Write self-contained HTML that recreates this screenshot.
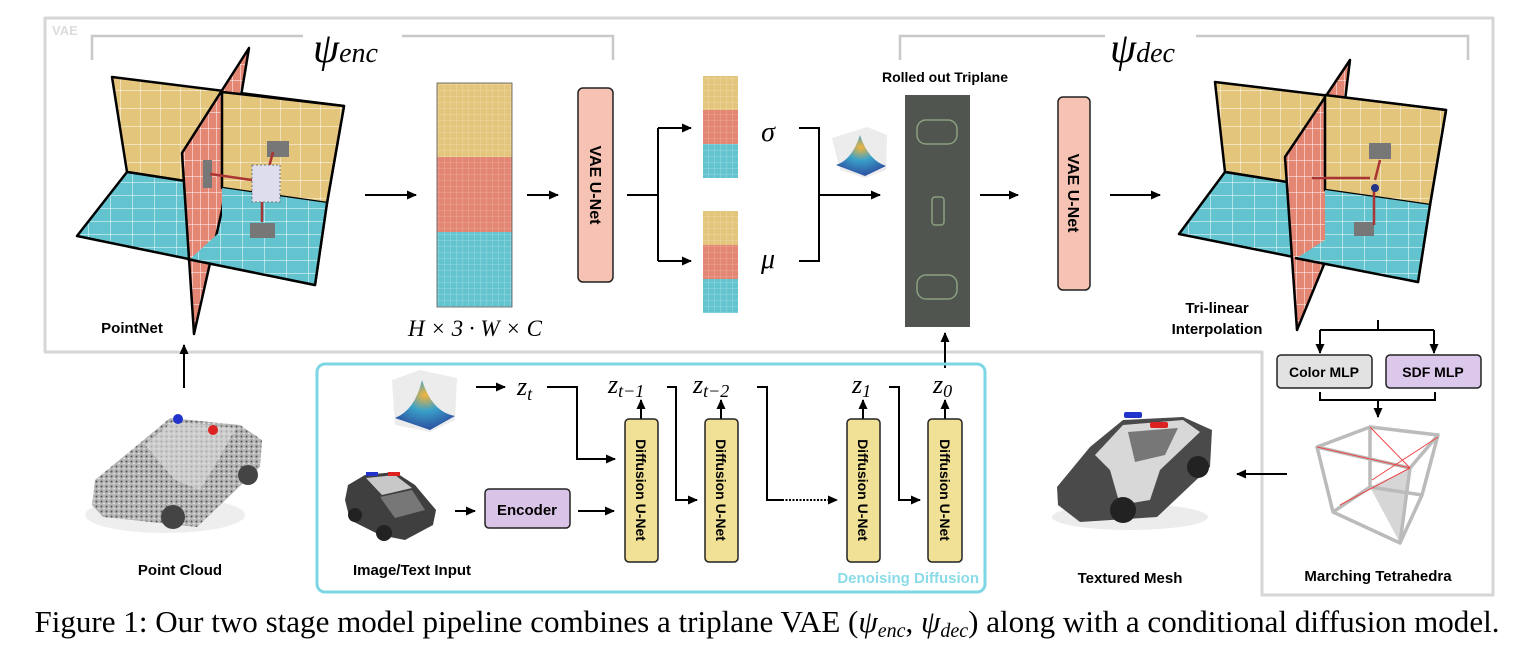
<!DOCTYPE html>
<html><head><meta charset="utf-8"><style>
body{margin:0;background:#fff;}
svg{display:block}
.s{font-family:"Liberation Sans",sans-serif;font-weight:bold;}
.m{font-family:"Liberation Serif",serif;font-style:italic;}
</style></head><body>
<svg width="1514" height="646" viewBox="0 0 1514 646" xmlns="http://www.w3.org/2000/svg">
<defs>
<pattern id="gy" width="6" height="6" patternUnits="userSpaceOnUse"><rect width="6" height="6" fill="#e3c57c"/><path d="M0 0H6M0 0V6" stroke="#f1dfae" stroke-width="0.8"/></pattern>
<pattern id="gr" width="6" height="6" patternUnits="userSpaceOnUse"><rect width="6" height="6" fill="#e38673"/><path d="M0 0H6M0 0V6" stroke="#f0b0a2" stroke-width="0.8"/></pattern>
<pattern id="gc" width="6" height="6" patternUnits="userSpaceOnUse"><rect width="6" height="6" fill="#63c4cf"/><path d="M0 0H6M0 0V6" stroke="#a6e0e6" stroke-width="0.8"/></pattern>
<pattern id="by" width="20" height="18" patternUnits="userSpaceOnUse"><rect width="20" height="18" fill="#e3c57c"/><path d="M0 0H20M0 0V18" stroke="#fff" stroke-width="1"/></pattern>
<pattern id="br" width="8" height="16" patternUnits="userSpaceOnUse"><rect width="8" height="16" fill="#e38673"/><path d="M0 0H8M0 0V16" stroke="#fff" stroke-width="1"/></pattern>
<pattern id="bc" width="22" height="13" patternUnits="userSpaceOnUse"><rect width="22" height="13" fill="#63c4cf"/><path d="M0 0H22M0 0V13" stroke="#fff" stroke-width="1"/></pattern>
<pattern id="pc" width="5" height="5" patternUnits="userSpaceOnUse"><rect width="5" height="5" fill="#b5b5b5"/><circle cx="1.5" cy="1.5" r="1" fill="#555"/><circle cx="4" cy="3.5" r="0.8" fill="#eee"/></pattern>
<marker id="a" markerWidth="10" markerHeight="10" refX="9" refY="5" orient="auto" markerUnits="userSpaceOnUse"><path d="M0 0.5L10 5L0 9.5z" fill="#000"/></marker>
<radialGradient id="gs" cx="50%" cy="30%" r="70%"><stop offset="0" stop-color="#f5b43a"/><stop offset="0.45" stop-color="#3aa1c9"/><stop offset="1" stop-color="#2d4fa0"/></radialGradient>
</defs>

<!-- VAE outline -->
<path d="M45 18H1493V595H1262V352H45Z" fill="none" stroke="#d6d6d6" stroke-width="3" stroke-linejoin="round"/>
<text x="52" y="35" class="s" font-size="13" fill="#dcdcdc">VAE</text>
<path d="M92 60V36H303M402 36H613V60" fill="none" stroke="#c8c8c8" stroke-width="2.5"/>
<text x="313" y="62" class="m" font-size="42">ψ<tspan font-size="28">enc</tspan></text>
<path d="M900 60V36H1105M1196 36H1468V60" fill="none" stroke="#c8c8c8" stroke-width="2.5"/>
<text x="1110" y="62" class="m" font-size="42">ψ<tspan font-size="28">dec</tspan></text>

<!-- encoder triplane -->
<g stroke="#000" stroke-width="2.5" stroke-linejoin="round">
<polygon points="112,77 344,106 327,203 127,172" fill="url(#by)"/>
<polygon points="127,172 327,203 315,285 77,236" fill="url(#bc)"/>
<polygon points="182,153 249,48 222,210 194,334" fill="url(#br)"/>
<polygon points="222,92 344,106 327,203 222,188" fill="url(#by)"/>
<polygon points="222,188 327,203 315,285 190,259 222,230" fill="url(#bc)" stroke="none"/>
<path d="M327,203 315,285 187,259" fill="none"/>
<path d="M222 92V188" fill="none" stroke-width="1.5"/>
</g>
<rect x="267" y="141" width="22" height="16" fill="#777"/><rect x="250" y="223" width="25" height="15" fill="#777"/><rect x="203" y="160" width="9" height="28" fill="#777"/>
<path d="M265 182L273 152M252 180L210 174M262 200V222" stroke="#a33" stroke-width="2.5"/>
<rect x="252" y="165" width="28" height="37" fill="#dde" stroke="#777" stroke-dasharray="2,2"/>
<text x="132" y="333" class="s" font-size="15" text-anchor="middle">PointNet</text>

<!-- feature stack -->
<rect x="437" y="83" width="75" height="74" fill="url(#gy)"/><rect x="437" y="157" width="75" height="75" fill="url(#gr)"/><rect x="437" y="232" width="75" height="75" fill="url(#gc)"/>
<rect x="437" y="83" width="75" height="224" fill="none" stroke="#555" stroke-width="0.8"/>
<text x="475" y="336" class="m" font-size="23" text-anchor="middle">H × 3 · W × C</text>

<g stroke="#000" stroke-width="2" fill="none">
<path d="M365 195H416" marker-end="url(#a)"/>
<path d="M527 195H558" marker-end="url(#a)"/>
<path d="M627 195H658M658 128V261"/><path d="M658 128H691" marker-end="url(#a)"/><path d="M658 261H691" marker-end="url(#a)"/>
<path d="M799 128H819V261H799"/><path d="M819 195H880" marker-end="url(#a)"/>
<path d="M980 195H1018" marker-end="url(#a)"/>
<path d="M1110 195H1160" marker-end="url(#a)"/>
<path d="M184 388V345" marker-end="url(#a)"/>
<path d="M945 368V333" marker-end="url(#a)"/>
<path d="M1378 320V330M1320 330H1434"/><path d="M1320 330V353" marker-end="url(#a)"/><path d="M1434 330V353" marker-end="url(#a)"/>
<path d="M1320 392V400H1435V392"/><path d="M1378 400V417" marker-end="url(#a)"/>
<path d="M1287 474H1237" marker-end="url(#a)"/>
</g>

<rect x="578" y="88" width="35" height="194" rx="5" fill="#f5c2b3" stroke="#222" stroke-width="1.5"/>
<text transform="translate(590,185) rotate(90)" class="s" font-size="16" text-anchor="middle">VAE U-Net</text>

<rect x="703" y="76" width="35" height="34" fill="url(#gy)"/><rect x="703" y="110" width="35" height="34" fill="url(#gr)"/><rect x="703" y="144" width="35" height="34" fill="url(#gc)"/>
<rect x="703" y="211" width="35" height="34" fill="url(#gy)"/><rect x="703" y="245" width="35" height="34" fill="url(#gr)"/><rect x="703" y="279" width="35" height="34" fill="url(#gc)"/>
<text x="768" y="141" class="m" font-size="28" text-anchor="middle">σ</text>
<text x="768" y="268" class="m" font-size="28" text-anchor="middle">μ</text>
<path d="M832 138L867 127L887 135L886 170L865 178L840 170Z" fill="#ececec"/>
<path d="M836 165Q852 160 860 135Q868 160 886 166L865 176Z" fill="url(#gs)"/>

<!-- rolled out triplane -->
<text x="945" y="82" class="s" font-size="14" text-anchor="middle">Rolled out Triplane</text>
<rect x="905" y="95" width="65" height="232" fill="#505550"/>
<rect x="917" y="120" width="40" height="24" rx="9" fill="none" stroke="#8aa07f" stroke-width="1.5"/>
<rect x="932" y="197" width="12" height="28" rx="3" fill="none" stroke="#8aa07f" stroke-width="1.5"/>
<rect x="917" y="275" width="40" height="24" rx="9" fill="none" stroke="#8aa07f" stroke-width="1.5"/>

<rect x="1058" y="97" width="32" height="193" rx="5" fill="#f5c2b3" stroke="#222" stroke-width="1.5"/>
<text transform="translate(1068,193) rotate(90)" class="s" font-size="16" text-anchor="middle">VAE U-Net</text>

<!-- decoder triplane -->
<g stroke="#000" stroke-width="2.5" stroke-linejoin="round">
<polygon points="1215,82 1446,110 1430,205 1225,172" fill="url(#by)"/>
<polygon points="1225,172 1430,205 1418,282 1179,234" fill="url(#bc)"/>
<polygon points="1285,157 1350,60 1325,262 1297,330" fill="url(#br)"/>
<polygon points="1325,95 1446,110 1430,205 1325,190" fill="url(#by)"/>
<polygon points="1325,190 1430,205 1418,282 1297,258 1325,240" fill="url(#bc)" stroke="none"/>
<path d="M1430,205 1418,282 1295,258" fill="none"/>
<path d="M1325 95V190" fill="none" stroke-width="1.5"/>
</g>
<rect x="1369" y="143" width="22" height="16" fill="#777"/><rect x="1354" y="222" width="20" height="14" fill="#777"/>
<path d="M1312 178H1370M1374 188V225M1380 160L1375 180" stroke="#a33" stroke-width="2.5"/>
<circle cx="1375" cy="188" r="4" fill="#223388"/>
<text x="1217" y="313" class="s" font-size="15" text-anchor="middle">Tri-linear</text>
<text x="1217" y="334" class="s" font-size="15" text-anchor="middle">Interpolation</text>

<rect x="1277" y="355" width="95" height="33" rx="4" fill="#e2e2e2" stroke="#222" stroke-width="1.5"/>
<text x="1324" y="377" class="s" font-size="14" text-anchor="middle">Color MLP</text>
<rect x="1386" y="355" width="95" height="33" rx="4" fill="#dcc8ea" stroke="#222" stroke-width="1.5"/>
<text x="1433" y="377" class="s" font-size="14" text-anchor="middle">SDF MLP</text>

<!-- tetra cube -->
<path d="M1370 487L1410 468L1400 543Z" fill="#ccc" opacity="0.8"/>
<g fill="none" stroke="#bbb" stroke-width="3.5" stroke-linejoin="round">
<path d="M1317 447L1370 427L1438 435L1410 468ZM1317 447L1333 512L1400 543L1410 468M1400 543L1422 495L1438 435M1370 427L1370 487L1333 512M1370 487L1422 495"/>
</g>
<path d="M1317 447L1410 468M1370 427L1410 468M1340 505L1410 468M1372 480L1438 437" stroke="#e44" stroke-width="1"/>
<text x="1378" y="581" class="s" font-size="15" text-anchor="middle">Marching Tetrahedra</text>

<!-- textured mesh car -->
<g>
<ellipse cx="1130" cy="517" rx="78" ry="13" fill="#ececec"/>
<path d="M1057 487L1090 447L1123 420L1183 417L1212 430L1210 467L1157 517L1080 522L1058 505Z" fill="#4a4a4a"/>
<path d="M1123 425L1183 420L1200 432L1160 470L1150 500L1120 505L1110 470L1095 455Z" fill="#d8d8d8"/>
<path d="M1128 432L1178 428L1165 455L1135 462Z" fill="#777"/>
<rect x="1124" y="412" width="18" height="6" rx="2" fill="#2233cc"/><rect x="1150" y="422" width="18" height="6" rx="2" fill="#dd2222"/>
<circle cx="1123" cy="510" r="13" fill="#222"/><circle cx="1198" cy="467" r="11" fill="#222"/>
</g>
<text x="1130" y="583" class="s" font-size="15" text-anchor="middle">Textured Mesh</text>

<!-- point cloud car -->
<g>
<ellipse cx="165" cy="515" rx="80" ry="18" fill="#eee"/>
<path d="M95 480L140 443L170 418L240 425L262 440L260 467L197 527L103 517L92 505Z" fill="url(#pc)"/>
<path d="M145 445L172 422L236 428L215 465L200 490L175 480Z" fill="#ddd" opacity="0.6"/>
<circle cx="178" cy="419" r="5" fill="#2233cc"/><circle cx="213" cy="430" r="5" fill="#dd2222"/>
<circle cx="173" cy="517" r="12" fill="#444"/><circle cx="248" cy="475" r="10" fill="#444"/>
</g>
<text x="180" y="575" class="s" font-size="15" text-anchor="middle">Point Cloud</text>

<!-- denoising diffusion -->
<rect x="317" y="364" width="668" height="228" rx="8" fill="none" stroke="#7dd6e4" stroke-width="3"/>
<text x="979" y="583" class="s" font-size="15" fill="#8adbe8" text-anchor="end">Denoising Diffusion</text>
<path d="M392 380L420 370L457 378L455 420L430 432L395 425Z" fill="#ececec"/>
<path d="M395 418Q415 410 422 380Q432 412 455 416L430 430Z" fill="url(#gs)"/>
<g stroke="#000" stroke-width="2" fill="none">
<path d="M476 387H505" marker-end="url(#a)"/>
<path d="M547 387H577V459H615" marker-end="url(#a)"/>
<path d="M667 387H676V500H697" marker-end="url(#a)"/>
<path d="M757 387H767V500H782"/><path d="M782 500H837" stroke-dasharray="2,1.5" marker-end="url(#a)"/>
<path d="M889 387H899V500H920" marker-end="url(#a)"/>
<path d="M641 419V400" marker-end="url(#a)"/><path d="M721 419V400" marker-end="url(#a)"/><path d="M863 419V400" marker-end="url(#a)"/><path d="M945 419V400" marker-end="url(#a)"/>
<path d="M455 511H475" marker-end="url(#a)"/>
<path d="M578 511H614" marker-end="url(#a)"/>
</g>
<text x="517" y="395" class="m" font-size="26">z<tspan font-size="18" dy="5">t</tspan></text>
<text x="608" y="393" class="m" font-size="26">z<tspan font-size="18" dy="4">t−1</tspan></text>
<text x="693" y="393" class="m" font-size="26">z<tspan font-size="18" dy="4">t−2</tspan></text>
<text x="852" y="393" class="m" font-size="26">z<tspan font-size="18" dy="4">1</tspan></text>
<text x="933" y="393" class="m" font-size="26">z<tspan font-size="18" dy="4">0</tspan></text>
<g fill="#f0e196" stroke="#222" stroke-width="1.5">
<rect x="625" y="419" width="33" height="143" rx="4"/><rect x="705" y="419" width="33" height="143" rx="4"/><rect x="847" y="419" width="33" height="143" rx="4"/><rect x="928" y="419" width="34" height="143" rx="4"/>
</g>
<g class="s" font-size="14" text-anchor="middle">
<text transform="translate(636,490) rotate(90)">Diffusion U-Net</text>
<text transform="translate(716,490) rotate(90)">Diffusion U-Net</text>
<text transform="translate(858,490) rotate(90)">Diffusion U-Net</text>
<text transform="translate(940,490) rotate(90)">Diffusion U-Net</text>
</g>
<!-- image car -->
<g>
<path d="M348 485L365 475L395 472L415 485L436 510L433 525L405 540L380 535L350 520L345 500Z" fill="#3f3f3f"/>
<path d="M366 478L395 475L412 488L382 495Z" fill="#c8c8c8"/>
<path d="M380 497L412 490L425 510L395 518Z" fill="#777"/>
<rect x="366" y="472" width="12" height="4" fill="#2233cc"/><rect x="388" y="472" width="12" height="4" fill="#dd2222"/>
<circle cx="384" cy="533" r="8" fill="#222"/><circle cx="355" cy="515" r="7" fill="#222"/>
</g>
<rect x="485" y="489" width="85" height="39" rx="4" fill="#d9c3e6" stroke="#222" stroke-width="1.5"/>
<text x="527" y="515" class="s" font-size="15" font-weight="normal" text-anchor="middle">Encoder</text>
<text x="412" y="575" class="s" font-size="15" text-anchor="middle">Image/Text Input</text>

<text x="767" y="632" font-family="Liberation Serif,serif" font-size="31" text-anchor="middle" textLength="1465" lengthAdjust="spacingAndGlyphs">Figure 1: Our two stage model pipeline combines a triplane VAE (<tspan font-style="italic">ψ<tspan font-size="20" dy="5">enc</tspan></tspan><tspan dy="-5">, </tspan><tspan font-style="italic">ψ<tspan font-size="20" dy="5">dec</tspan></tspan><tspan dy="-5">) along with a conditional diffusion model.</tspan></text>
</svg>
</body></html>
